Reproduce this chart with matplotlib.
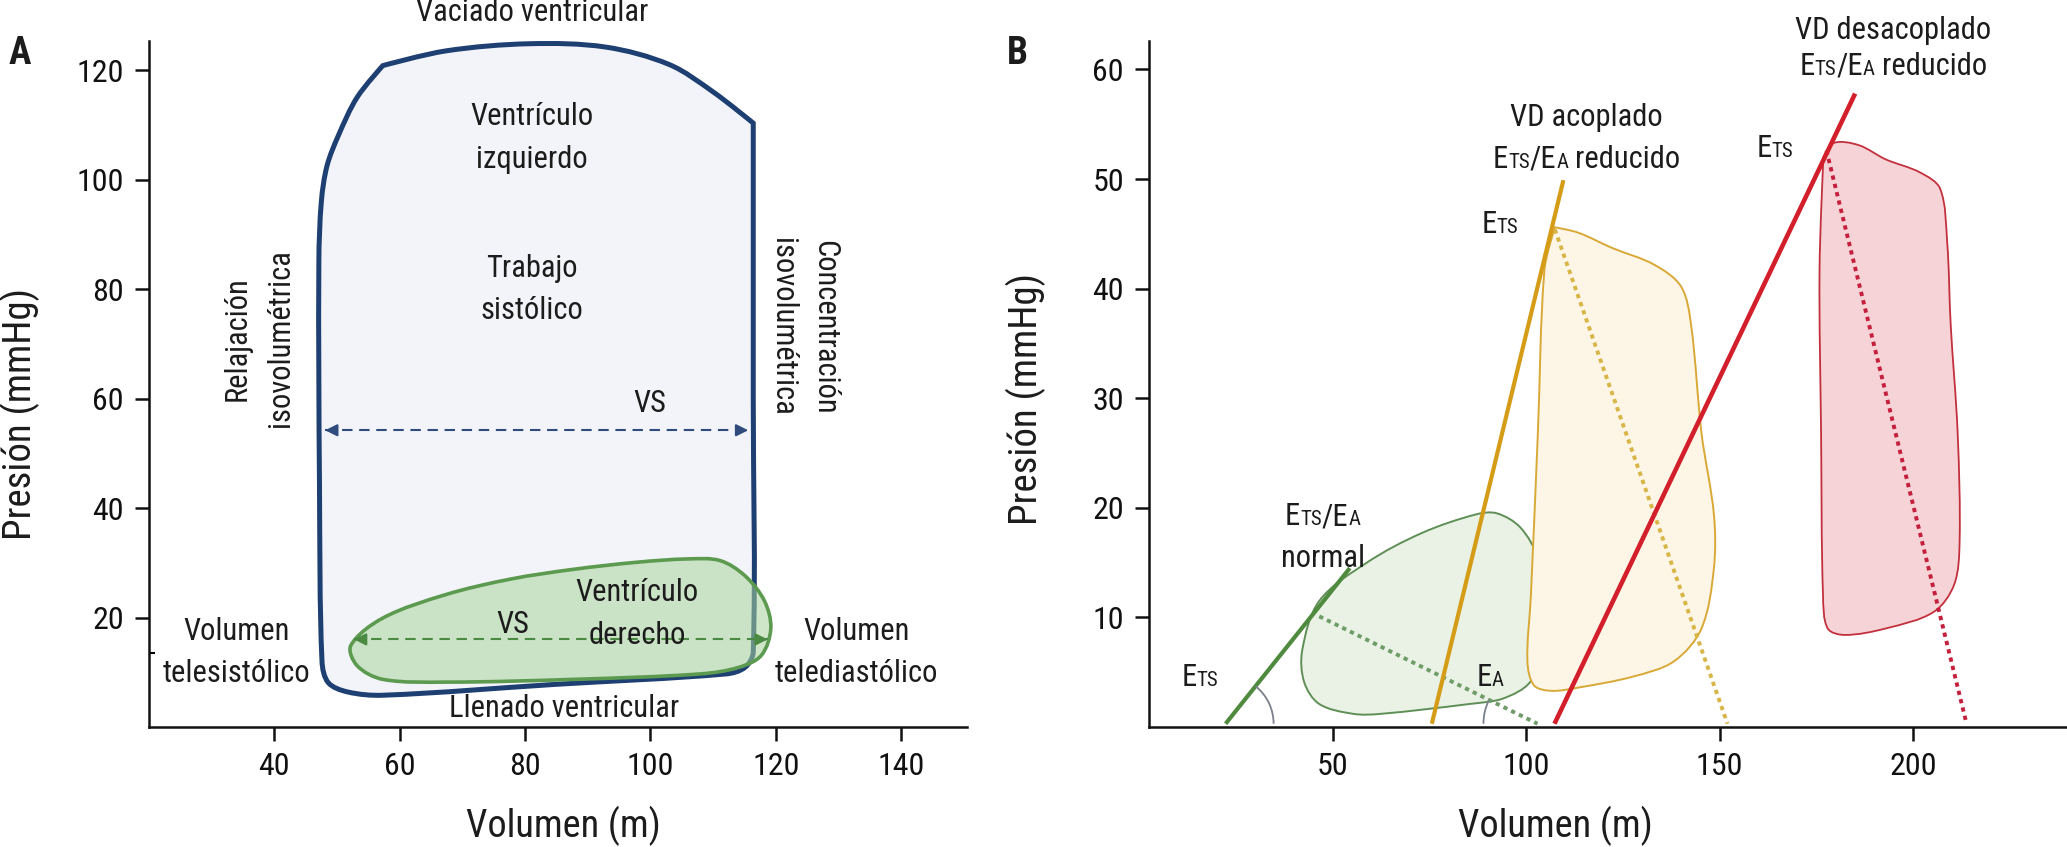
import numpy as np
import matplotlib
matplotlib.use("Agg")
import matplotlib.pyplot as plt
from matplotlib.path import Path
from matplotlib.patches import PathPatch, Arc
from matplotlib.transforms import IdentityTransform
from matplotlib.offsetbox import TextArea, HPacker, AnnotationBbox
from matplotlib import font_manager as fm

_installed = {f.name for f in fm.fontManager.ttflist}
_prefs = ['Roboto Condensed', 'Archivo Narrow', 'PT Sans Narrow', 'Pragati Narrow',
          'IBM Plex Sans Condensed', 'Fira Sans Condensed', 'Open Sans Condensed']
plt.rcParams['font.family'] = [f for f in _prefs if f in _installed][:1] + ['DejaVu Sans']

# ---------------- Panel A data ----------------
a_xticks = [40, 60, 80, 100, 120, 140]
a_yticks = [20, 40, 60, 80, 100, 120]
lv_x = [47.6, 47.2, 47.1, 47.5, 48.4, 50.2, 53.2, 57.3, 67.4, 80.6, 92.8, 103.0, 110.0,
        116.4, 116.4, 116.4, 115.1, 112.1, 85.0, 57.3, 51.7, 48.6]
lv_y = [12.0, 43.8, 85.0, 96.0, 102.5, 108.0, 115.0, 120.8, 123.5, 124.8, 124.2, 121.0, 116.0,
        110.3, 60.0, 13.7, 10.9, 9.7, 7.8, 5.8, 6.4, 8.1]
lv_corners = [7, 13]
rv_x = [52.2, 57.3, 67.4, 77.6, 87.7, 97.9, 106.0, 111.1, 115.1, 118.2, 119.2, 117.7,
        114.1, 108.0, 87.7, 67.4, 57.3, 53.2]
rv_y = [14.9, 19.9, 24.2, 27.0, 28.8, 30.1, 30.7, 30.4, 27.6, 23.0, 18.0, 13.1,
        10.9, 9.7, 8.7, 8.2, 8.7, 11.2]
lv_vs = (48.1, 115.6, 54.2)   # x start, x end, y
rv_vs = (52.7, 118.7, 16.0)

# ---------------- Panel B data ----------------
b_xticks = [50, 100, 150, 200]
b_yticks = [10, 20, 30, 40, 50, 60]
g_x = [42.1, 46.5, 58.8, 73.0, 87.0, 92.4, 98.5, 103.0, 104.7, 103.8, 101.0, 94.0, 85.3,
       62.4, 55.3, 46.5, 42.6]
g_y = [7.0, 11.5, 15.0, 17.7, 19.4, 19.5, 18.2, 15.4, 11.0, 7.0, 4.1, 2.6, 2.1,
       1.2, 1.2, 2.1, 4.1]
y_x = [107.4, 113.5, 122.3, 133.0, 140.0, 142.6, 145.3, 148.5, 148.5, 145.3, 138.2, 127.6,
       113.5, 106.5, 102.0, 100.3, 101.2, 103.0, 104.7]
y_y = [45.6, 45.1, 43.7, 42.2, 40.2, 36.7, 26.8, 19.4, 14.5, 9.0, 6.0, 4.6,
       3.6, 3.3, 3.8, 6.0, 12.0, 26.8, 41.7]
r_x = [176.8, 179.5, 185.9, 192.9, 201.8, 207.0, 208.8, 209.7, 211.5, 212.0, 210.6, 205.3,
       193.0, 182.3, 177.9, 176.7, 176.2, 175.8]
r_y = [52.0, 53.3, 53.1, 51.8, 50.6, 49.1, 44.2, 36.7, 26.8, 16.9, 13.0, 10.5,
       9.0, 8.4, 9.0, 12.0, 26.8, 41.7]
g_ets = ([22.3, 54.4], [0.3, 14.5])
g_ea = ([46.5, 102.9], [10.1, 0.3])
y_ets = ([75.6, 109.6], [0.3, 49.9])
y_ea = ([107.4, 152.0], [45.4, 0.3])
r_ets = ([107.3, 185.0], [0.3, 57.8])
r_ea = ([177.6, 213.8], [52.6, 0.3])

TXT = '#1c1c1c'
FS = 22

fig = plt.figure(figsize=(20.67, 8.47), dpi=100)
axA = fig.add_axes([149/2067, 120/847, 818/2067, 686/847])
axB = fig.add_axes([1149/2067, 120/847, 917/2067, 686/847])


def style(ax, xlim, ylim, xt, yt):
    ax.set_xlim(*xlim)
    ax.set_ylim(*ylim)
    for s in ['top', 'right']:
        ax.spines[s].set_visible(False)
    for s in ['left', 'bottom']:
        ax.spines[s].set_linewidth(1.8)
        ax.spines[s].set_color('#111111')
    ax.set_xticks(xt)
    ax.set_yticks(yt)
    ax.tick_params(length=10, width=1.8, labelsize=23, pad=8, colors='#111111')
    ax.set_facecolor('none')


style(axA, (20, 150.5), (0, 125.3), a_xticks, a_yticks)
style(axB, (2.5, 239.5), (0, 62.6), b_xticks, b_yticks)
axA.set_yticks([13.5], minor=True)
axA.tick_params(which='minor', direction='in', length=4, width=1.5)

for ax, lx, ly, fx in [(axA, -0.133, 0.456, 0.506), (axB, -0.112, 0.478, 0.443)]:
    ax.set_xlabel('Volumen (m)', fontsize=27.5, color=TXT, va='baseline')
    ax.set_ylabel('Presión (mmHg)', fontsize=28, color=TXT)
    ax.xaxis.set_label_coords(fx, -0.160)
    ax.yaxis.set_label_coords(lx, ly)

fig.text(0.004, 0.937, 'A', fontsize=27, fontweight='bold', color=TXT, va='center')
fig.text(0.487, 0.937, 'B', fontsize=27, fontweight='bold', color=TXT, va='center')


def smooth_patch(ax, xs, ys, corners=(), **kw):
    P = ax.transData.transform(np.column_stack([xs, ys]))
    n = len(P)
    nxt = np.roll(P, -1, axis=0)
    prv = np.roll(P, 1, axis=0)
    d = np.linalg.norm(nxt - P, axis=1)
    dp = np.roll(d, 1)
    T = (nxt - prv) / (d + dp)[:, None]
    for c in corners:
        T[c] = 0
    verts = [P[0]]
    codes = [Path.MOVETO]
    for i in range(n):
        j = (i + 1) % n
        verts += [P[i] + T[i] * d[i] / 3, P[j] - T[j] * d[i] / 3, P[j]]
        codes += [Path.CURVE4] * 3
    verts.append(P[0])
    codes.append(Path.CLOSEPOLY)
    V = ax.transData.inverted().transform(np.array(verts))
    patch = PathPatch(Path(V, codes), clip_on=False, **kw)
    ax.add_patch(patch)
    return patch


def dashed_arrow(ax, spec, color, lw):
    x0, x1, yv = spec
    ax.plot([x0, x1], [yv, yv], color=color, lw=lw, dashes=(5, 3.2), zorder=6)
    span = (x1 - x0) * 0.02
    for a, b in [(x1 - span, x1), (x0 + span, x0)]:
        ax.annotate('', xy=(b, yv), xytext=(a, yv),
                    arrowprops=dict(arrowstyle='-|>', color=color, lw=lw,
                                    mutation_scale=18, shrinkA=0, shrinkB=0),
                    zorder=6)


# ---------------- Panel A drawing ----------------
smooth_patch(axA, lv_x, lv_y, lv_corners, facecolor='#f3f4f9', edgecolor='#1d3f72',
             lw=3.6, zorder=2)
smooth_patch(axA, rv_x, rv_y, (), facecolor='#a9d49b', alpha=0.55, edgecolor='none', zorder=3)
smooth_patch(axA, rv_x, rv_y, (), facecolor='none', edgecolor='#5c9a50', lw=2.6, zorder=4)
dashed_arrow(axA, lv_vs, '#2f4c7d', 1.5)
dashed_arrow(axA, rv_vs, '#4b8a42', 1.5)

ta = dict(fontsize=FS, color=TXT, ha='center', va='center', linespacing=1.6, zorder=8)
axA.text(81.1, 130.5, 'Vaciado ventricular', clip_on=False, **ta)
axA.text(81.1, 107.6, 'Ventrículo\nizquierdo', **ta)
axA.text(81.1, 79.9, 'Trabajo\nsistólico', **ta)
axA.text(37.5, 71.0, 'Relajación\nisovolumétrica', rotation=90, **ta)
axA.text(124.4, 73.0, 'Concentración\nisovolumétrica', rotation=270, **ta)
axA.text(99.9, 59.1, 'VS', **ta)
axA.text(33.9, 13.6, 'Volumen\ntelesistólico', **ta)
axA.text(132.9, 13.6, 'Volumen\ntelediastólico', **ta)
axA.text(78.1, 18.8, 'VS', **ta)
axA.text(97.9, 20.6, 'Ventrículo\nderecho', **ta)
axA.text(86.2, 3.4, 'Llenado ventricular', **ta)

# ---------------- Panel B drawing ----------------
smooth_patch(axB, g_x, g_y, (), facecolor='#e9f2e5', edgecolor='#5f8f56', lw=1.4, zorder=2)
smooth_patch(axB, y_x, y_y, (0,), facecolor='#fdf6e7', edgecolor='#d8a936', lw=1.4, zorder=2)
smooth_patch(axB, r_x, r_y, (0,), facecolor='#f6d3d6', edgecolor='#c2303e', lw=1.3, zorder=2)

axB.plot(*g_ets, color='#4f8a3f', lw=3.0, zorder=4, solid_capstyle='butt')
axB.plot(*y_ets, color='#d59c17', lw=3.0, zorder=4, solid_capstyle='butt')
axB.plot(*r_ets, color='#d21f2b', lw=3.3, zorder=4, solid_capstyle='butt')
axB.plot(*g_ea, color='#6f9c68', lw=2.8, dashes=(1.1, 1.1), zorder=3)
axB.plot(*y_ea, color='#d8b547', lw=2.8, dashes=(1.1, 1.1), zorder=3)
axB.plot(*r_ea, color='#c41f3c', lw=2.8, dashes=(1.1, 1.1), zorder=3)


def angle_arc(ax, center, toward, r_px, axis_ang):
    c = ax.transData.transform(center)
    t = ax.transData.transform(toward)
    ang = np.degrees(np.arctan2(t[1] - c[1], t[0] - c[0]))
    a1, a2 = sorted([ang, axis_ang])
    ax.add_patch(Arc(c, 2 * r_px, 2 * r_px, theta1=a1, theta2=a2,
                     transform=IdentityTransform(), color='#7c808c', lw=1.3,
                     clip_on=False, zorder=5))


angle_arc(axB, (g_ets[0][0], g_ets[1][0]), (g_ets[0][1], g_ets[1][1]), 48, 0)
angle_arc(axB, (g_ea[0][1], g_ea[1][1]), (g_ea[0][0], g_ea[1][0]), 54, 180)


def etext(ax, xy, parts, size=FS, small=15):
    kids = [TextArea(s, textprops=dict(fontsize=(small if sm else size), color=TXT))
            for s, sm in parts]
    box = HPacker(children=kids, align='baseline', pad=0, sep=0)
    ab = AnnotationBbox(box, xy, xycoords='data', frameon=False, box_alignment=(0.5, 0.5),
                        annotation_clip=False, pad=0, zorder=8)
    ax.add_artist(ab)


ets = [('E', 0), ('TS', 1)]
ratio_red = [('E', 0), ('TS', 1), ('/E', 0), ('A', 1), (' reducido', 0)]
axB.text(194.8, 63.6, 'VD desacoplado', clip_on=False, **ta)
etext(axB, (194.8, 60.3), ratio_red)
axB.text(115.6, 55.6, 'VD acoplado', **ta)
etext(axB, (115.6, 51.8), ratio_red)
etext(axB, (93.2, 45.9), ets)
etext(axB, (164.3, 52.8), ets)
etext(axB, (47.4, 19.2), [('E', 0), ('TS', 1), ('/E', 0), ('A', 1)])
axB.text(47.4, 15.4, 'normal', **ta)
etext(axB, (15.6, 4.5), ets)
etext(axB, (90.6, 4.5), [('E', 0), ('A', 1)])

fig.savefig('out.png', dpi=100)
